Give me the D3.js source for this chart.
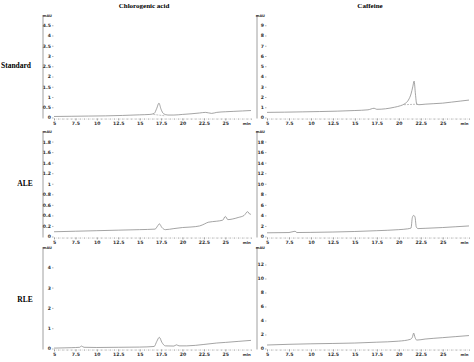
<!DOCTYPE html>
<html>
<head>
<meta charset="utf-8">
<script src="https://cdn.jsdelivr.net/npm/d3@7"></script>
<style>
  body { margin: 0; background: #fff; }
  svg { display: block; }
  .tick text { font-family: "DejaVu Sans", sans-serif; font-weight: bold; font-size: 4.6px; fill: #333; }
  .tick line { stroke: #888; stroke-width: 0.6; }
  .title { font-family: "Liberation Serif", serif; font-weight: bold; fill: #000; }
</style>
</head>
<body>
<svg id="chart" width="474" height="362"></svg>
<script>
// column and row titles
const columnTitles = ['Chlorogenic acid', 'Caffeine'];
const rowTitles = ['Standard', 'ALE', 'RLE'];

// x axis (retention time, min)
const xTicks = [5, 7.5, 10, 12.5, 15, 17.5, 20, 22.5, 25];

// y tick labels of each panel (mAU)
const yTicksStdCga = [0, 0.5, 1, 1.5, 2, 2.5, 3, 3.5, 4, 4.5];
const yTicksStdCaf = [0, 1, 2, 3, 4, 5, 6, 7, 8, 9];
const yTicksAleCga = [0, 0.2, 0.4, 0.6, 0.8, 1, 1.2, 1.4, 1.6, 1.8];
const yTicksAleCaf = [0, 2, 4, 6, 8, 10, 12, 14, 16, 18];
const yTicksRleCga = [0, 1, 2, 3, 4];
const yTicksRleCaf = [0, 2, 4, 6, 8, 10, 12];

// chromatograms: [time (min), signal (mAU)]
const stdCga = [[5,0.05],[7,0.06],[9,0.07],[11,0.08],[13,0.1],[15,0.13],[16.2,0.15],[16.7,0.2],[17.0,0.45],
  [17.25,0.7],[17.5,0.4],[17.8,0.18],[18.3,0.12],[19,0.12],[20,0.15],[21,0.18],[22,0.22],[22.7,0.25],
  [23.4,0.2],[24,0.25],[25,0.28],[26,0.3],[27,0.32],[28,0.34]];
const stdCaf = [[5,0.5],[7,0.52],[9,0.55],[11,0.58],[13,0.62],[15,0.68],[16.5,0.75],[17.2,0.9],[17.5,0.8],
  [18.5,0.85],[19.5,1.0],[20.2,1.15],[20.7,1.35],[21.1,1.7],[21.4,2.3],[21.6,3.0],[21.75,3.55],[21.9,2.3],
  [22.05,1.3],[22.3,1.25],[23,1.3],[24,1.35],[25,1.4],[26,1.5],[27,1.6],[28,1.7]];
const aleCga = [[5,0.09],[7.5,0.1],[10,0.11],[12.5,0.12],[15,0.13],[16.8,0.14],[17.1,0.2],[17.3,0.24],
  [17.6,0.17],[18,0.13],[19,0.15],[20,0.17],[21,0.18],[22,0.2],[22.6,0.24],[23,0.27],[24,0.29],[24.7,0.31],
  [25,0.38],[25.3,0.32],[25.8,0.33],[26.5,0.36],[27.2,0.4],[27.6,0.47],[27.9,0.42],[28,0.43]];
const aleCaf = [[5,0.7],[7.5,0.75],[8.2,1.0],[8.4,0.75],[10,0.78],[12.5,0.85],[15,0.95],[17.5,1.1],[20,1.3],
  [21,1.45],[21.4,1.6],[21.55,3.6],[21.7,4.0],[21.85,3.7],[22,1.8],[22.2,1.5],[23,1.55],[25,1.7],
  [26.5,1.85],[28,2.0]];
const rleCga = [[5,0.02],[7,0.04],[8,0.06],[8.2,0.12],[8.5,0.06],[10,0.05],[12.5,0.06],[15,0.07],[16.7,0.1],
  [17.0,0.35],[17.3,0.55],[17.6,0.3],[18,0.13],[19,0.12],[19.3,0.18],[19.6,0.13],[20.5,0.13],[22.5,0.2],
  [24,0.27],[25,0.3],[26.5,0.35],[28,0.4]];
const rleCaf = [[5,0.5],[7.5,0.6],[10,0.67],[12.5,0.72],[15,0.78],[17.5,0.9],[20,1.05],[21.3,1.3],[21.55,1.6],
  [21.7,2.2],[21.85,1.6],[22.05,1.2],[23,1.35],[25,1.55],[26.5,1.7],[28,1.85]];

// integration baselines drawn under peaks
const stdCgaBase = [[16.6,0.15],[18.0,0.08]];
const stdCafBase = [[20.6,1.25],[22.2,1.3]];

const svg = d3.select('#chart');

// layout
const cols = [
  {border: 43, x0: 54, x1: 251},
  {border: 257, x0: 267, x1: 469}
];
const rows = [
  {top: 15, base: 117.5},
  {top: 131, base: 236.5},
  {top: 247, base: 348.5}
];

const panels = [
  {r: 0, c: 0, data: stdCga, base: stdCgaBase, ymax: 5, ticks: yTicksStdCga},
  {r: 0, c: 1, data: stdCaf, base: stdCafBase, ymax: 10, ticks: yTicksStdCaf},
  {r: 1, c: 0, data: aleCga, base: null, ymax: 2, ticks: yTicksAleCga},
  {r: 1, c: 1, data: aleCaf, base: null, ymax: 20, ticks: yTicksAleCaf},
  {r: 2, c: 0, data: rleCga, base: null, ymax: 5, ticks: yTicksRleCga},
  {r: 2, c: 1, data: rleCaf, base: null, ymax: 14.5, ticks: yTicksRleCaf}
];

const minorTicks = d3.range(5, 28.01, 0.5);

panels.forEach((p) => {
  let col = cols[p.c];
  let row = rows[p.r];
  let x = d3.scaleLinear().domain([5, 28]).range([col.x0, col.x1]);
  let y = d3.scaleLinear().domain([0, p.ymax]).range([row.base, row.top]);
  let g = svg.append('g');

  // left frame line
  g.append('line')
    .attr('x1', col.border).attr('x2', col.border)
    .attr('y1', row.top).attr('y2', row.base + 1)
    .attr('stroke', '#888').attr('stroke-width', 0.8);

  // y axis
  let yAxis = g.append('g')
    .attr('transform', 'translate(' + (col.x0 - 0.5) + ',0)')
    .call(d3.axisLeft(y).tickValues(p.ticks).tickSize(1.5).tickPadding(1).tickFormat(d3.format('')));
  yAxis.select('.domain').remove();

  g.append('text')
    .attr('x', col.x0 - 2).attr('y', row.top + 1.5)
    .attr('text-anchor', 'end')
    .style('font-family', '"DejaVu Sans", sans-serif')
    .style('font-size', '3.6px').style('font-weight', 'bold')
    .style('fill', '#333')
    .text('mAU');

  // x axis: minor ticks then labelled ticks
  g.append('g')
    .attr('transform', 'translate(0,' + (row.base + 1) + ')')
    .call(d3.axisBottom(x).tickValues(minorTicks).tickSize(1.2).tickFormat(''))
    .select('.domain').attr('stroke', '#aaa').attr('stroke-width', 0.5).attr('stroke-dasharray', '1,1');

  g.append('g')
    .attr('transform', 'translate(0,' + (row.base + 1) + ')')
    .call(d3.axisBottom(x).tickValues(xTicks).tickSize(2).tickPadding(1).tickFormat(d3.format('')))
    .select('.domain').remove();

  g.append('text')
    .attr('x', x(27.5)).attr('y', row.base + 7.5)
    .attr('text-anchor', 'middle')
    .style('font-family', '"DejaVu Sans", sans-serif')
    .style('font-size', '3.8px').style('font-weight', 'bold')
    .style('fill', '#333')
    .text('min');

  // chromatogram trace
  let line = d3.line().x((d) => x(d[0])).y((d) => y(d[1])).curve(d3.curveMonotoneX);
  g.append('path')
    .datum(p.data)
    .attr('d', line)
    .attr('fill', 'none')
    .attr('stroke', '#858585')
    .attr('stroke-width', 0.75);

  if (p.base) {
    g.append('path')
      .datum(p.base)
      .attr('d', d3.line().x((d) => x(d[0])).y((d) => y(d[1])))
      .attr('fill', 'none')
      .attr('stroke', '#999')
      .attr('stroke-width', 0.6)
      .attr('stroke-dasharray', '2,1');
  }
});

// column titles
const colTitleX = [144, 370];
columnTitles.forEach((t, i) => {
  svg.append('text')
    .attr('class', 'title')
    .attr('x', colTitleX[i]).attr('y', 7.5)
    .attr('text-anchor', 'middle')
    .style('font-size', '7px')
    .text(t);
});

// row titles
const rowTitlePos = [[16, 68], [25, 186], [25, 302]];
rowTitles.forEach((t, i) => {
  svg.append('text')
    .attr('class', 'title')
    .attr('x', rowTitlePos[i][0]).attr('y', rowTitlePos[i][1])
    .attr('text-anchor', 'middle')
    .style('font-size', '7.5px')
    .text(t);
});
</script>
</body>
</html>
